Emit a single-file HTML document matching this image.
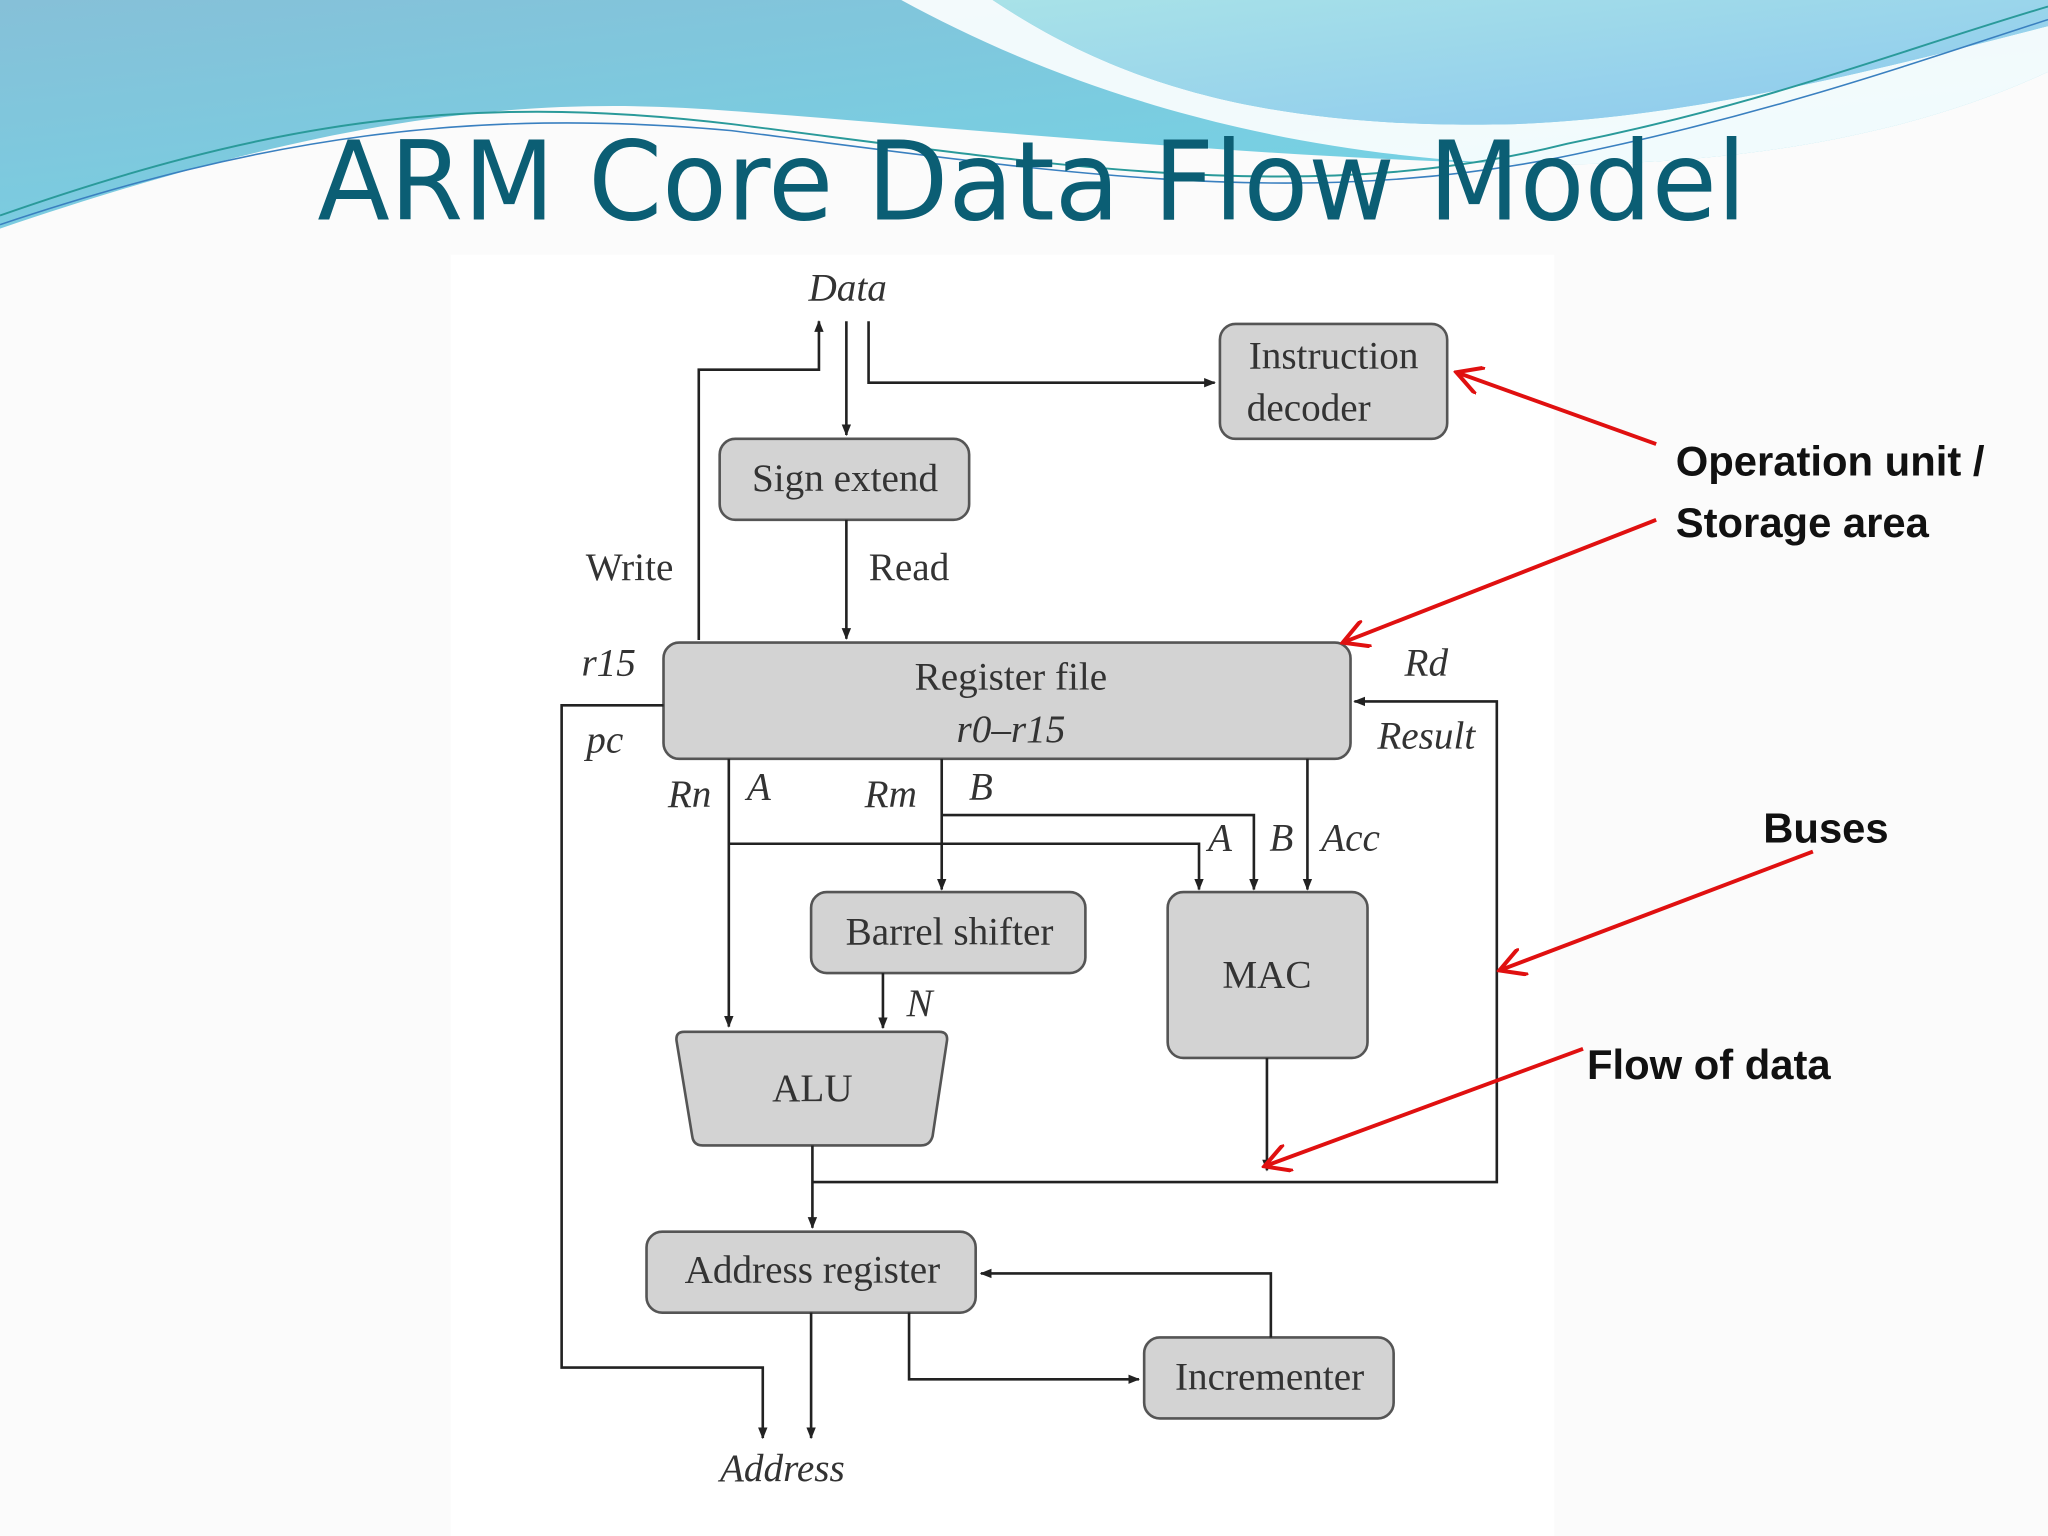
<!DOCTYPE html>
<html><head><meta charset="utf-8"><style>html,body{margin:0;padding:0;background:#fbfbfb}svg{display:block}</style></head>
<body>
<svg width="2048" height="1536" viewBox="0 0 1568 1176" preserveAspectRatio="none" xmlns="http://www.w3.org/2000/svg">
<defs>
<marker id="ar" viewBox="0 0 10 10" refX="9" refY="5" markerWidth="9" markerHeight="9" markerUnits="userSpaceOnUse" orient="auto"><path d="M0,1 L10,5 L0,9 z" fill="#222"/></marker>
<marker id="rr" viewBox="0 0 10 10" refX="9" refY="5" markerWidth="22" markerHeight="22" markerUnits="userSpaceOnUse" orient="auto"><path d="M0,0 L9,5 L0,10" fill="none" stroke="#e01010" stroke-width="1.4"/></marker>
<linearGradient id="g1" x1="0" y1="0" x2="1" y2="1"><stop offset="0" stop-color="#86c0d8"/><stop offset="1" stop-color="#6fd8e8"/></linearGradient>
<linearGradient id="g2" x1="0" y1="0" x2="1" y2="1"><stop offset="0" stop-color="#a8e2e8"/><stop offset="1" stop-color="#8cc8ee"/></linearGradient>
</defs>
<rect width="1568" height="1176" fill="#fbfbfb"/>
<path d="M0,0 H1568 V55 C1450,110 1300,130 1150,125 C950,120 700,95 560,85 C400,72 250,90 0,175 Z" fill="url(#g1)"/>
<path d="M690,0 H760 C850,60 960,100 1160,95 C1300,90 1450,50 1568,20 V55 C1450,110 1300,130 1150,125 C950,115 800,60 690,0 Z" fill="#ffffff" opacity="0.9"/>
<path d="M760,0 H1568 V20 C1450,50 1300,90 1160,95 C960,100 850,60 760,0 Z" fill="url(#g2)"/>
<path d="M0,165 C200,95 350,70 560,95 C800,125 1000,160 1200,110 C1350,80 1450,40 1568,5" fill="none" stroke="#2a9a9a" stroke-width="1.5"/>
<path d="M0,172 C200,105 360,82 560,100 C800,130 1000,165 1220,115 C1360,85 1460,50 1568,15" fill="none" stroke="#3a80c0" stroke-width="1.2"/>
<text x="790" y="168" text-anchor="middle" font-family="DejaVu Sans, Liberation Sans, sans-serif" font-size="84" fill="#0b5e74" textLength="1094" lengthAdjust="spacingAndGlyphs">ARM Core Data Flow Model</text>
<rect x="345" y="195" width="845" height="981" fill="#ffffff"/>
<g fill="#d3d3d3" stroke="#555" stroke-width="2">
<rect x="934" y="248" width="174" height="88" rx="12"/>
<rect x="551" y="336" width="191" height="62" rx="12"/>
<rect x="508" y="492" width="526" height="89" rx="12"/>
<rect x="621" y="683" width="210" height="62" rx="12"/>
<rect x="894" y="683" width="153" height="127" rx="12"/>
<path d="M524,790 H719 Q726,790 725,797 L714,870 Q712,877 705,877 H538 Q531,877 530,870 L518,797 Q517,790 524,790 Z"/>
<rect x="495" y="943" width="252" height="62" rx="12"/>
<rect x="876" y="1024" width="191" height="62" rx="12"/>
</g>
<g fill="none" stroke="#222" stroke-width="2">
<path d="M535,490 V283 H627 V246" marker-end="url(#ar)"/>
<path d="M648,246 V333" marker-end="url(#ar)"/>
<path d="M665,246 V293 H930" marker-end="url(#ar)"/>
<path d="M648,398 V489" marker-end="url(#ar)"/>
<path d="M508,540 H430 V1047 H584 V1101" marker-end="url(#ar)"/>
<path d="M558,581 V786" marker-end="url(#ar)"/>
<path d="M558,646 H918 V681" marker-end="url(#ar)"/>
<path d="M721,581 V681" marker-end="url(#ar)"/>
<path d="M721,624 H960 V681" marker-end="url(#ar)"/>
<path d="M1001,581 V681" marker-end="url(#ar)"/>
<path d="M676,745 V787" marker-end="url(#ar)"/>
<path d="M970,810 V896" marker-end="url(#ar)"/>
<path d="M622,877 V940" marker-end="url(#ar)"/>
<path d="M622,905 H1146 V537 H1037" marker-end="url(#ar)"/>
<path d="M621,1005 V1101" marker-end="url(#ar)"/>
<path d="M696,1005 V1056 H872" marker-end="url(#ar)"/>
<path d="M973,1024 V975 H751" marker-end="url(#ar)"/>
</g>
<g font-family="Liberation Serif, serif" font-size="30" fill="#333">
<text x="1021" y="282" text-anchor="middle">Instruction</text>
<text x="1002" y="322" text-anchor="middle">decoder</text>
<text x="647" y="376" text-anchor="middle">Sign extend</text>
<text x="774" y="528" text-anchor="middle">Register file</text>
<text x="774" y="568" text-anchor="middle" font-style="italic">r0–r15</text>
<text x="727" y="723" text-anchor="middle">Barrel shifter</text>
<text x="970" y="756" text-anchor="middle">MAC</text>
<text x="622" y="843" text-anchor="middle">ALU</text>
<text x="622" y="982" text-anchor="middle">Address register</text>
<text x="972" y="1064" text-anchor="middle">Incrementer</text>
<text x="482" y="444" text-anchor="middle">Write</text>
<text x="696" y="444" text-anchor="middle">Read</text>
<g font-style="italic">
<text x="649" y="230" text-anchor="middle">Data</text>
<text x="466" y="517" text-anchor="middle">r15</text>
<text x="463" y="576" text-anchor="middle">pc</text>
<text x="1092" y="517" text-anchor="middle">Rd</text>
<text x="1092" y="573" text-anchor="middle">Result</text>
<text x="528" y="618" text-anchor="middle">Rn</text>
<text x="581" y="612" text-anchor="middle">A</text>
<text x="682" y="618" text-anchor="middle">Rm</text>
<text x="751" y="612" text-anchor="middle">B</text>
<text x="934" y="651" text-anchor="middle">A</text>
<text x="981" y="651" text-anchor="middle">B</text>
<text x="1034" y="651" text-anchor="middle">Acc</text>
<text x="704" y="778" text-anchor="middle">N</text>
<text x="599" y="1134" text-anchor="middle">Address</text>
</g>
</g>
<g stroke="#e01010" stroke-width="3" fill="none">
<path d="M1268,340 L1115,285" marker-end="url(#rr)"/>
<path d="M1268,398 L1028,492" marker-end="url(#rr)"/>
<path d="M1388,652 L1148,743" marker-end="url(#rr)"/>
<path d="M1212,803 L968,893" marker-end="url(#rr)"/>
</g>
<g font-family="Liberation Sans, sans-serif" font-weight="bold" font-size="32" fill="#111">
<text x="1283" y="364">Operation unit /</text>
<text x="1283" y="411">Storage area</text>
<text x="1350" y="645">Buses</text>
<text x="1215" y="826">Flow of data</text>
</g>
</svg>
</body></html>
